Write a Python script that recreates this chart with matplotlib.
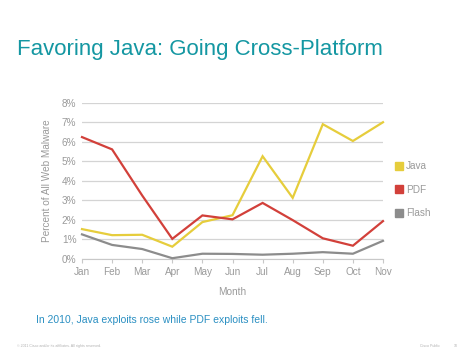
import matplotlib
matplotlib.use("Agg")
import matplotlib.pyplot as plt
from matplotlib.lines import Line2D

plt.rcParams["font.family"] = ["Liberation Sans", "DejaVu Sans"]

months = ["Jan", "Feb", "Mar", "Apr", "May", "Jun", "Jul", "Aug", "Sep", "Oct", "Nov"]
java = [1.53, 1.22, 1.24, 0.63, 1.89, 2.24, 5.26, 3.13, 6.9, 6.04, 7.0]
pdf = [6.24, 5.61, 3.25, 1.03, 2.23, 2.03, 2.87, 1.99, 1.06, 0.68, 1.94]
flash = [1.26, 0.72, 0.51, 0.04, 0.27, 0.26, 0.22, 0.27, 0.35, 0.27, 0.93]
yticks = [0, 1, 2, 3, 4, 5, 6, 7, 8]
series_names = ["Java", "PDF", "Flash"]
colors = ["#e6cd3c", "#d2403a", "#8c8c8c"]

fig = plt.figure(figsize=(4.74, 3.55), dpi=100)
fig.patch.set_facecolor("white")
ax = fig.add_axes([82/474, 1-259/355, (383-82)/474, (259-102.7)/355])

x = list(range(len(months)))
for vals, c in zip([java, pdf, flash], colors):
    ax.plot(x, vals, color=c, lw=1.6, solid_joinstyle="miter", clip_on=False, zorder=3)

ax.set_xlim(0, len(months) - 1)
ax.set_ylim(0, 8)
ax.set_yticks(yticks)
ax.set_yticklabels([f"{v}%" for v in yticks])
ax.set_xticks(x)
ax.set_xticklabels(months)
ax.grid(axis="y", color="#d4d4d4", lw=0.9)
ax.set_axisbelow(True)
for s in ["top", "right", "left"]:
    ax.spines[s].set_visible(False)
ax.spines["bottom"].set_color("#c8c8c8")
tc = "#9a9a9a"
ax.tick_params(axis="y", length=0, pad=4, labelsize=7.2, labelcolor=tc)
ax.tick_params(axis="x", length=3, color="#c8c8c8", pad=3, labelsize=7.2, labelcolor=tc)
ax.set_xlabel("Month", fontsize=7.2, color=tc, labelpad=7)
ax.set_ylabel("Percent of All Web Malware", fontsize=7.2, color=tc, labelpad=7)

handles = [Line2D([0], [0], marker="s", ls="none", markersize=6, markerfacecolor=c,
                  markeredgecolor=c) for c in colors]
fig.legend(handles, series_names, loc="center left", bbox_to_anchor=(385/474, 1-190/355),
           frameon=False, fontsize=7.2, labelcolor=tc, handletextpad=0.2,
           labelspacing=1.35, handlelength=1.0)

fig.text(17/474, 1-50/355, "Favoring Java: Going Cross-Platform", fontsize=16,
         color="#1497a2", va="center", ha="left")
fig.text(36/474, 1-320/355, "In 2010, Java exploits rose while PDF exploits fell.", fontsize=7.5,
         color="#2a8fc2", va="center", ha="left")
fig.text(17/474, 1-346/355, "© 2011 Cisco and/or its affiliates. All rights reserved.", fontsize=2.6,
         color="#b0b0b0", va="center", ha="left")
fig.text(440/474, 1-346/355, "Cisco Public", fontsize=2.6, color="#b0b0b0", va="center", ha="right")
fig.text(456/474, 1-346/355, "10", fontsize=2.6, color="#b0b0b0", va="center", ha="center")

fig.savefig("out.png", dpi=100)
